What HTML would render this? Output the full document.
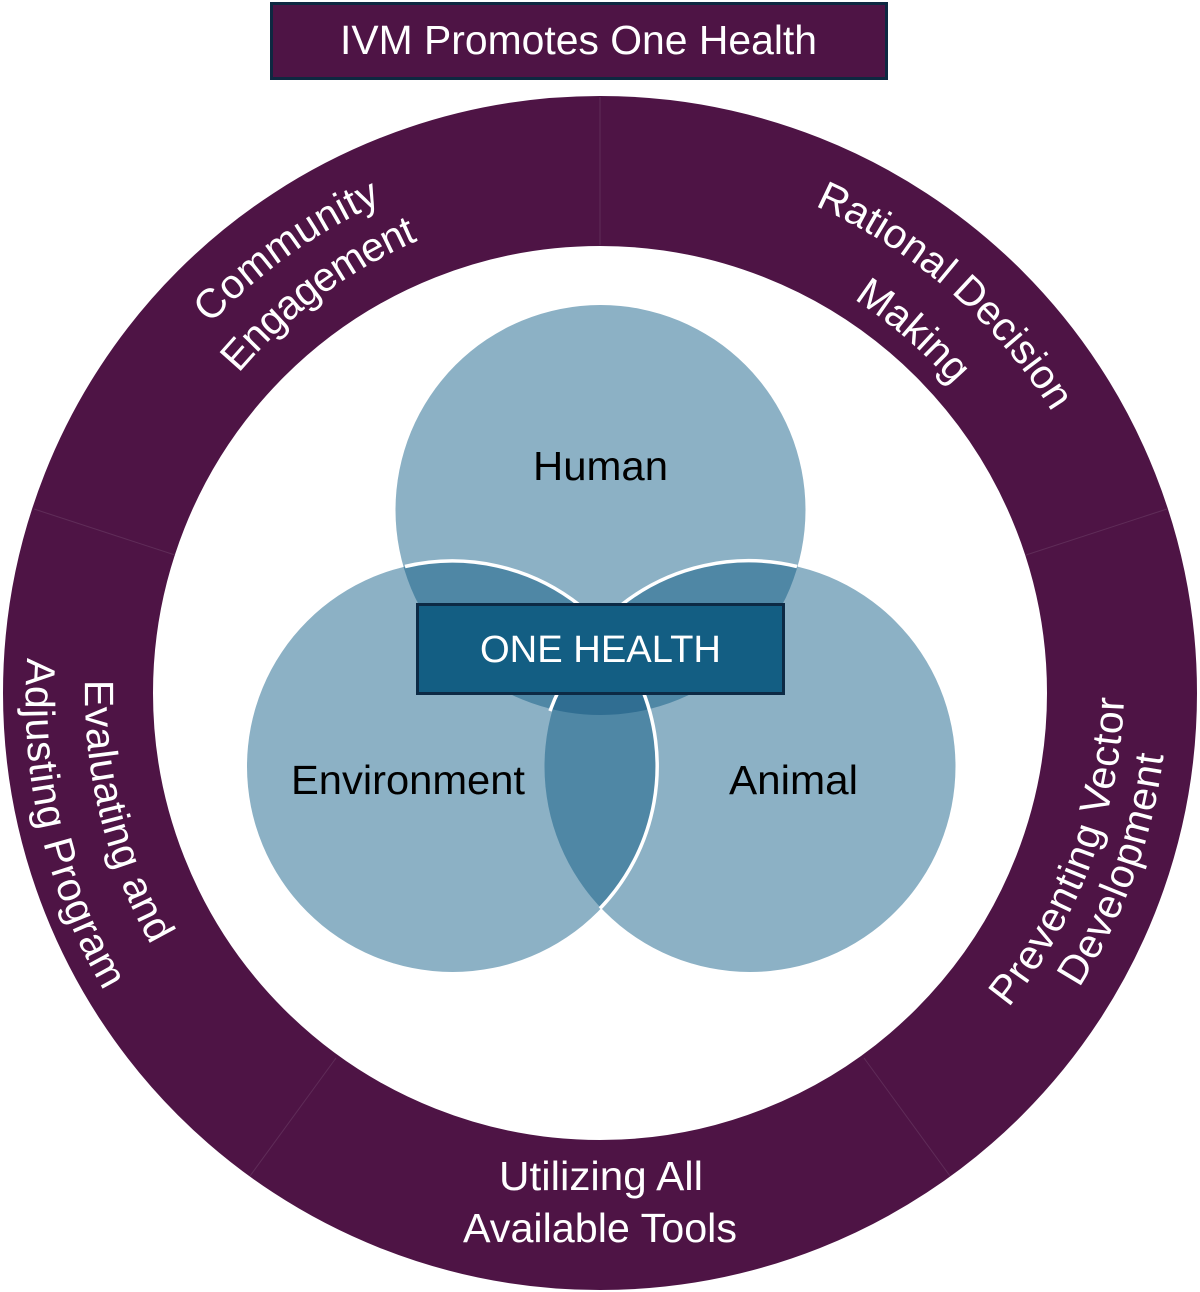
<!DOCTYPE html>
<html>
<head>
<meta charset="utf-8">
<title>IVM Promotes One Health</title>
<style>
html,body{margin:0;padding:0;background:#fff;width:1200px;height:1292px;overflow:hidden}
svg{display:block}
text{font-family:"Liberation Sans",sans-serif}
.w{fill:#fff;font-size:41px}
.k{fill:#000;font-size:41px}
</style>
</head>
<body>
<svg width="1200" height="1292" viewBox="0 0 1200 1292" xmlns="http://www.w3.org/2000/svg">
<defs>
<clipPath id="cH"><circle cx="600.5" cy="510" r="205"/></clipPath>
<clipPath id="cE"><circle cx="452.5" cy="766.5" r="205.5"/></clipPath>
<clipPath id="cA"><circle cx="750" cy="766.5" r="205.5"/></clipPath>
<clipPath id="cHE" clip-path="url(#cE)"><circle cx="600.5" cy="510" r="205"/></clipPath>
<path id="t536" d="M72.1 599.4A536 536 0 0 1 1127.9 599.4"/>
<path id="t485" d="M122.4 608.3A485 485 0 0 1 1077.6 608.3"/>
<path id="t532" d="M76.1 600.1A532 532 0 0 1 1123.9 600.1"/>
<path id="t468" d="M139.1 611.3A468 468 0 0 1 1060.9 611.3"/>
<path id="b515" d="M92.8 781.9A515 515 0 0 0 1107.2 781.9"/>
<path id="b573" d="M35.7 792A573 573 0 0 0 1164.3 792"/>
<path id="b520" d="M87.9 782.8A520 520 0 0 0 1112.1 782.8"/>
<path id="b565" d="M43.6 790.6A565 565 0 0 0 1156.4 790.6"/>
</defs>

<!-- title -->
<rect x="271.5" y="3.5" width="615" height="75" fill="#4e1445" stroke="#0e2841" stroke-width="3"/>
<text x="578.5" y="54" class="w" text-anchor="middle" textLength="477" lengthAdjust="spacingAndGlyphs">IVM Promotes One Health</text>

<!-- ring -->
<circle cx="600" cy="693" r="522" fill="none" stroke="#4e1445" stroke-width="150"/>
<g stroke="#5f2c58" stroke-width="1">
<line x1="600" y1="97" x2="600" y2="245"/>
<line x1="34" y1="509" x2="175" y2="555"/>
<line x1="250" y1="1176" x2="336" y2="1058"/>
<line x1="950" y1="1176" x2="864" y2="1058"/>
<line x1="1167" y1="509" x2="1026" y2="555"/>
</g>

<!-- venn -->
<circle cx="600.5" cy="510" r="205" fill="#8cb1c5"/>
<circle cx="452.5" cy="766.5" r="205.5" fill="#8cb1c5"/>
<circle cx="750" cy="766.5" r="205.5" fill="#8cb1c5"/>
<g clip-path="url(#cH)"><circle cx="452.5" cy="766.5" r="205.5" fill="#4f87a5"/><circle cx="750" cy="766.5" r="205.5" fill="#4f87a5"/></g>
<g clip-path="url(#cE)"><circle cx="750" cy="766.5" r="205.5" fill="#4f87a5"/></g>
<g clip-path="url(#cHE)"><circle cx="750" cy="766.5" r="205.5" fill="#306e92"/></g>

<!-- white arcs -->
<g fill="none" stroke="#fff" stroke-width="3.5">
<path d="M405 566.5A205.5 205.5 0 0 1 580 605.5"/>
<path d="M620 606A205.5 205.5 0 0 1 797 566.5"/>
<path d="M640 684A205.5 205.5 0 0 1 600 908.5"/>
<path d="M560 688A205.5 205.5 0 0 0 550 711"/>
</g>

<!-- center box -->
<rect x="417.5" y="604.5" width="366" height="89" fill="#135e83" stroke="#0c2a45" stroke-width="3"/>
<text x="600.5" y="662" class="w" style="font-size:38px" text-anchor="middle" textLength="241" lengthAdjust="spacingAndGlyphs">ONE HEALTH</text>

<!-- venn labels -->
<text x="600.5" y="480" class="k" text-anchor="middle" textLength="135" lengthAdjust="spacingAndGlyphs">Human</text>
<text x="408" y="794" class="k" text-anchor="middle" textLength="234" lengthAdjust="spacingAndGlyphs">Environment</text>
<text x="793.5" y="794" class="k" text-anchor="middle" textLength="129" lengthAdjust="spacingAndGlyphs">Animal</text>

<!-- ring labels -->
<g transform="rotate(-35.3 600 692.5)">
<text class="w" text-anchor="middle" style="letter-spacing:.5px"><textPath href="#t536" startOffset="50%">Community</textPath></text>
</g>
<g transform="translate(-1 1) rotate(-1.5 318 295) rotate(-35.1 600 692.5)">
<text class="w" text-anchor="middle" style="letter-spacing:-.8px"><textPath href="#t485" startOffset="50%">Engagement</textPath></text>
</g>
<g transform="rotate(41 600 692.5)">
<text class="w" text-anchor="middle"><textPath href="#t532" startOffset="50%">Rational Decision</textPath></text>
</g>
<g transform="rotate(40.9 600 692.5)">
<text class="w" text-anchor="middle"><textPath href="#t468" startOffset="50%">Making</textPath></text>
</g>
<g transform="rotate(76 600 692.5)">
<text class="w" text-anchor="middle" style="letter-spacing:.4px"><textPath href="#b515" startOffset="50%">Evaluating and</textPath></text>
</g>
<g transform="translate(-3.5 0) rotate(1 77 823) rotate(76 600 692.5)">
<text class="w" text-anchor="middle" style="letter-spacing:.6px"><textPath href="#b573" startOffset="50%">Adjusting Program</textPath></text>
</g>
<g transform="rotate(1.5 1058 850) rotate(-71.1 600 692.5)">
<text class="w" text-anchor="middle" style="letter-spacing:.8px"><textPath href="#b520" startOffset="50%">Preventing Vector</textPath></text>
</g>
<g transform="rotate(1 1110 870) rotate(-71.1 600 692.5)">
<text class="w" text-anchor="middle" style="letter-spacing:.8px"><textPath href="#b565" startOffset="50%">Development</textPath></text>
</g>
<text x="601" y="1190" class="w" text-anchor="middle" textLength="204" lengthAdjust="spacingAndGlyphs">Utilizing All</text>
<text x="600" y="1242" class="w" text-anchor="middle" textLength="274" lengthAdjust="spacingAndGlyphs">Available Tools</text>
</svg>
</body>
</html>
